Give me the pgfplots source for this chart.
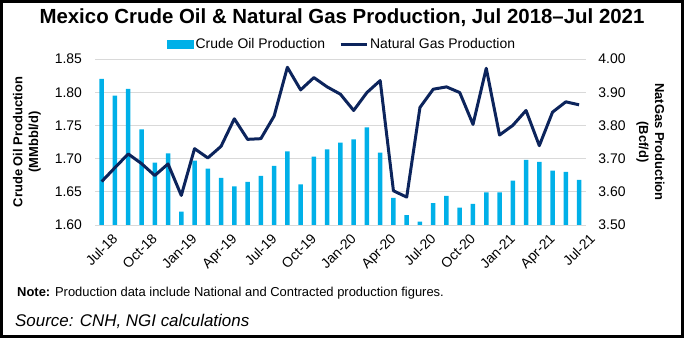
\documentclass[border=0pt]{standalone}
\usepackage{fontspec}
\setmainfont{Liberation Sans}
\usepackage{pgfplots}
\usepackage{pgfplotstable}
\pgfplotsset{compat=1.18}
\definecolor{oilc}{RGB}{0,176,232}
\definecolor{gasc}{RGB}{12,36,92}
\definecolor{gridc}{RGB}{217,217,217}

\pgfplotstableread{
idx oil gas
0 1.820 3.631
1 1.795 3.673
2 1.805 3.714
3 1.744 3.685
4 1.694 3.649
5 1.708 3.684
6 1.620 3.589
7 1.697 3.730
8 1.685 3.702
9 1.671 3.737
10 1.658 3.820
11 1.665 3.758
12 1.674 3.760
13 1.689 3.828
14 1.711 3.975
15 1.661 3.907
16 1.703 3.944
17 1.714 3.916
18 1.724 3.894
19 1.729 3.845
20 1.747 3.899
21 1.709 3.935
22 1.641 3.603
23 1.615 3.584
24 1.605 3.854
25 1.633 3.909
26 1.644 3.916
27 1.626 3.899
28 1.632 3.803
29 1.649 3.972
30 1.649 3.771
31 1.667 3.800
32 1.698 3.845
33 1.695 3.739
34 1.682 3.840
35 1.680 3.871
36 1.668 3.862
}\data

\pgfplotsset{
  every tick label/.append style={font=\fontsize{14}{16}\selectfont},
}

\begin{document}
\begin{tikzpicture}
\useasboundingbox (0bp,0bp) rectangle (684bp,338bp);
\draw[line width=3bp] (1.5bp,1.5bp) rectangle (682.5bp,336.5bp);
\node[font=\bfseries\fontsize{20.5}{24}\selectfont] at (342bp,320bp) {Mexico Crude Oil \& Natural Gas Production, Jul 2018--Jul 2021};

\begin{axis}[
  at={(95.1bp,113bp)}, anchor=south west,
  scale only axis, width=490.6bp, height=166bp,
  xmin=-0.5, xmax=36.5, ymin=1.6, ymax=1.85,
  ytick={1.60,1.65,1.70,1.75,1.80,1.85},
  xtick={0,3,...,36},
  xticklabels={Jul-18,Oct-18,Jan-19,Apr-19,Jul-19,Oct-19,Jan-20,Apr-20,Jul-20,Oct-20,Jan-21,Apr-21,Jul-21},
  ymajorgrids, grid style={gridc, line width=0.8bp},
  axis line style={draw=none}, major tick length=0pt,
  /pgf/number format/assume math mode=true,
  yticklabel style={/pgf/number format/fixed,/pgf/number format/fixed zerofill,/pgf/number format/precision=2, anchor=east, inner sep=0pt, xshift=-13bp},
  xticklabel style={rotate=45, anchor=north east, inner sep=0pt, xshift=1.5bp, yshift=-12bp},
  ylabel={Crude Oil Production\\(MMbbl/d)},
  every axis y label/.style={at={(axis description cs:-0.139,0.5)}, rotate=90, anchor=center, align=center, font=\bfseries\fontsize{13}{16}\selectfont},
  legend columns=2,
  legend style={at={(axis description cs:0.503,1.09)}, anchor=center, draw=none, fill=none, font=\fontsize{14}{16}\selectfont, /tikz/every even column/.append style={column sep=12bp}, inner sep=0pt},
  legend cell align=left,
]
\addplot[ybar, bar width=4.5bp, bar shift=0pt, fill=oilc, draw=none, legend image code/.code={\fill[oilc] (0bp,-4.5bp) rectangle (27bp,4.5bp);}] table[x=idx,y=oil]{\data};
\addlegendentry{Crude Oil Production}
\addlegendimage{legend image code/.code={\draw[gasc, line width=3bp] (0bp,0bp) -- (26bp,0bp);}}
\addlegendentry{Natural Gas Production}
\end{axis}

\begin{axis}[
  at={(95.1bp,113bp)}, anchor=south west,
  scale only axis, width=490.6bp, height=166bp,
  xmin=-0.5, xmax=36.5, ymin=3.5, ymax=4.0,
  ytick={3.5,3.6,3.7,3.8,3.9,4.0},
  xtick=\empty,
  axis y line*=right, axis x line=none,
  axis line style={draw=none}, major tick length=0pt,
  /pgf/number format/assume math mode=true,
  yticklabel style={/pgf/number format/fixed,/pgf/number format/fixed zerofill,/pgf/number format/precision=2, anchor=west, inner sep=0pt, xshift=12.5bp},
  ylabel={NatGas Production\\(Bcf/d)},
  every axis y label/.style={at={(axis description cs:1.132,0.5)}, rotate=-90, anchor=center, align=center, font=\bfseries\fontsize{13}{16}\selectfont},
]
\addplot[gasc, line width=3bp, mark=none, line join=round] table[x=idx,y=gas]{\data};
\end{axis}

\node[anchor=west, font=\fontsize{13}{15}\selectfont, inner sep=0pt] at (17bp,45bp) {\textbf{Note:} Production data include National and Contracted production figures.};
\node[anchor=west, font=\itshape\fontsize{17}{19}\selectfont, inner sep=0pt] at (15bp,17bp) {Source: CNH, NGI calculations};
\end{tikzpicture}
\end{document}
